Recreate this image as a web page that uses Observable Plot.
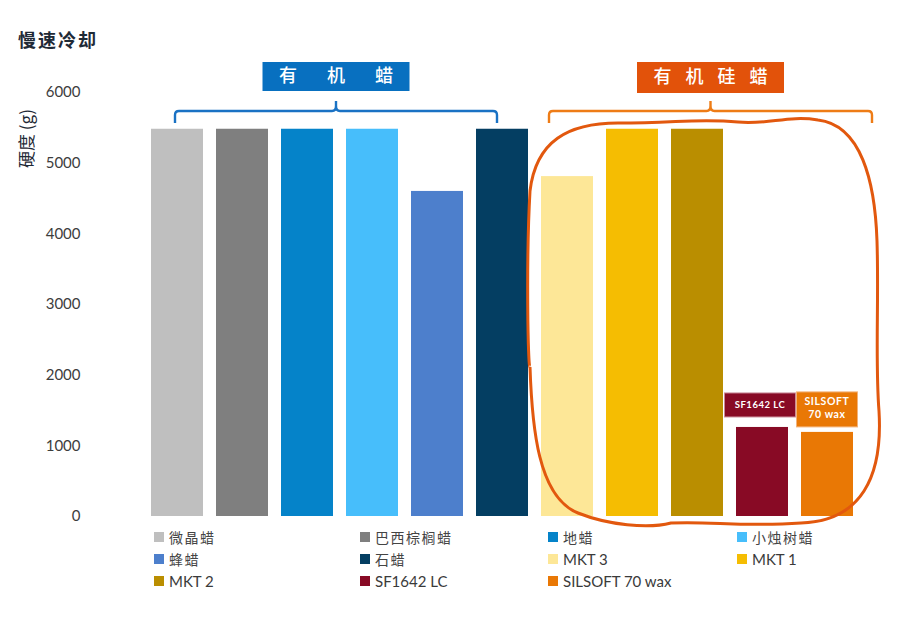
<!DOCTYPE html>
<html><head><meta charset="utf-8">
<script src="https://cdn.jsdelivr.net/npm/d3@7"></script>
<script src="https://cdn.jsdelivr.net/npm/@observablehq/plot@0.6"></script>
<style>
body{margin:0;background:#fff;}
#wrap{position:relative;width:924px;height:640px;overflow:hidden;}
#chart{position:absolute;left:0;top:0;}
#title{position:absolute;left:18px;top:26px;font:bold 18px "Noto Sans CJK SC",sans-serif;color:#1f2a36;letter-spacing:2px;}
#legend{position:absolute;left:154px;top:526px;display:grid;grid-template-columns:206px 188px 189px 170px;grid-auto-rows:22px;font:15px Lato,"Noto Sans CJK SC",sans-serif;color:#3a3a3a;}
#legend .it{display:flex;align-items:center;white-space:nowrap;}
#legend .sw{width:10px;height:10px;margin-right:5px;flex:none;}
#legend .cjk{font-family:"Noto Sans CJK SC",sans-serif;font-size:14px;color:#444;letter-spacing:1.5px;}
</style></head>
<body>
<div id="wrap">
  <div id="chart"></div>
  <div id="title"></div>
  <div id="legend"></div>
</div>
<script>
const title = "慢速冷却";
const yLabel = "硬度 (g)";
const categories = ["微晶蜡","巴西棕榈蜡","地蜡","小烛树蜡","蜂蜡","石蜡","MKT 3","MKT 1","MKT 2","SF1642 LC","SILSOFT 70 wax"];
const hardness = [5480,5480,5480,5480,4600,5480,4810,5480,5480,1260,1190];
const colors = ["#bfbfbf","#7f7f7f","#0583c9","#47befb","#4d7fcc","#043e62","#fde797","#f5bd02","#ba8e00","#880a25","#e97805"];
const yTicks = [0,1000,2000,3000,4000,5000,6000];
const groupNames = ["有机蜡","有机硅蜡"];
const groupMembers = [categories.slice(0,6), categories.slice(6)];
const groupColors = ["#0870c0","#e2520a"];
const bracketColors = ["#1a72c4","#ee7c16"];
const calloutNames = ["SF1642 LC","SILSOFT 70 wax"];
const calloutLines = [["SF1642 LC"],["SILSOFT","70 wax"]];

const data = categories.map((c,i)=>({name:c, value:hardness[i]}));

document.getElementById("title").textContent = title;

const plot = Plot.plot({
  width: 924, height: 528,
  marginLeft: 144, marginRight: 65, marginTop: 92, marginBottom: 12,
  style: {fontFamily: "Lato, sans-serif", fontSize: "15px", color: "#3d3d3d", background: "transparent"},
  x: {domain: categories, paddingInner: 0.2, paddingOuter: 0.1, axis: null},
  y: {domain: [0,6000], ticks: yTicks, tickSize: 0, tickPadding: 64, label: null, tickFormat: d => String(d)},
  color: {domain: categories, range: colors},
  marks: [
    Plot.barY(data, {x: "name", y: "value", fill: "name"}),
    Plot.text([yLabel], {frameAnchor: "top-left", textAnchor: "middle", rotate: -90, dx: -124, dy: 46, fontSize: 17, fill: "#1f2a36", fontFamily: "Noto Sans CJK SC", fontWeight: 400})
  ]
});
document.getElementById("chart").appendChild(plot);

const xs = plot.scale("x"), ys = plot.scale("y");
const bw = xs.bandwidth;
const svg = d3.select(plot);
const g = svg.append("g");
const yTop = ys.apply(6000);

// brackets and group labels
const ends = [
  [xs.apply(groupMembers[0][0]) + 24, xs.apply(groupMembers[0][groupMembers[0].length-1]) + 21],
  [xs.apply(groupMembers[1][0]) + 8, xs.apply(groupMembers[1][groupMembers[1].length-1]) + bw + 19]
];
groupNames.forEach((name, i) => {
  const [l, r] = ends[i];
  const c = (l + r) / 2;
  const yb = yTop + 19, ye = yTop + 31, yn = yTop + 9;
  g.append("path")
    .attr("d", `M${l},${ye} L${l},${yb+4} Q${l},${yb} ${l+4},${yb} L${c-4},${yb} Q${c},${yb} ${c},${yb-5} L${c},${yn} M${c},${yb-5} Q${c},${yb} ${c+4},${yb} L${r-4},${yb} Q${r},${yb} ${r},${yb+4} L${r},${ye}`)
    .attr("fill","none").attr("stroke",bracketColors[i]).attr("stroke-width",2.4);
  const bwid = 147, bh = i === 0 ? 29 : 31;
  g.append("rect").attr("x", c - bwid/2).attr("y", yTop - 30).attr("width", bwid).attr("height", bh).attr("fill", groupColors[i]);
  const ls = i === 0 ? 30 : 14;
  g.append("text").attr("x", c + ls/2).attr("y", yTop - 30 + bh/2 + 1).attr("text-anchor","middle").attr("dominant-baseline","middle")
    .attr("fill","#fff").attr("font-family","Noto Sans CJK SC").attr("font-size",18).attr("font-weight",500)
    .attr("letter-spacing", ls).text(name);
});

// wavy outline around silicone waxes
{
  const L = xs.apply(groupMembers[1][0]) - 13, R = xs.apply(groupMembers[1][groupMembers[1].length-1]) + bw + 28;
  const T = yTop + 29, B = ys.apply(0) + 11;
  const d = `M${L+2},${T+70} C${L+8},${T+20} ${L+40},${T+2} ${L+90},${T+2}
    C${L+150},${T+2} ${L+170},${T-3} ${L+210},${T+1} C${L+240},${T+4} ${L+260},${T-6} ${L+290},${T-1}
    C${R-20},${T+4} ${R-6},${T+60} ${R-4},${T+120}
    C${R-2},${T+180} ${R-6},${T+240} ${R-2},${T+290}
    C${R+2},${B-50} ${R-20},${B-6} ${R-80},${B-4}
    C${R-140},${B} ${R-170},${B-6} ${R-210},${B-4}
    C${L+120},${B+2} ${L+80},${B-2} ${L+50},${B-14}
    C${L+10},${B-30} ${L+4},${B-100} ${L+2},${B-160}
    C${L},${T+250} ${L-2},${T+140} ${L+2},${T+70} Z`;
  g.append("path").attr("d", d).attr("fill","none").attr("stroke","#e2580e").attr("stroke-width",3);
}

// callout labels
calloutNames.forEach((name, i) => {
  const k = categories.indexOf(name);
  const cx = xs.apply(name) + bw/2;
  const top = ys.apply(hardness[k]);
  const lines = calloutLines[i];
  const w = i === 0 ? 71 : 61, h = i === 0 ? 24 : 35;
  const gap = i === 0 ? 10 : 5;
  const bx = cx - w/2 - (i === 0 ? 2 : 0);
  const by = top - gap - h;
  g.append("rect").attr("x", bx).attr("y", by).attr("width", w).attr("height", h)
    .attr("fill", colors[k]).attr("stroke", i === 0 ? "#c98a96" : "#f3b37a").attr("stroke-width", 1);
  const t = g.append("text").attr("text-anchor","middle").attr("fill","#fff")
    .attr("font-family","Lato, sans-serif").attr("font-weight","bold").attr("font-size", i === 0 ? 9.5 : 10.5);
  lines.forEach((ln, j) => {
    t.append("tspan").attr("x", bx + w/2).attr("y", by + (lines.length === 1 ? h/2 + 3.5 : 13 + j*13))
      .attr("letter-spacing", i === 0 ? 0.5 : 0.6).text(ln);
  });
});

// legend
const legend = document.getElementById("legend");
categories.forEach((c, i) => {
  const it = document.createElement("div"); it.className = "it";
  const sw = document.createElement("span"); sw.className = "sw"; sw.style.background = colors[i];
  const tx = document.createElement("span"); tx.textContent = c;
  if (/[\u4e00-\u9fff]/.test(c)) tx.className = "cjk";
  it.appendChild(sw); it.appendChild(tx); legend.appendChild(it);
});
</script>
</body></html>
